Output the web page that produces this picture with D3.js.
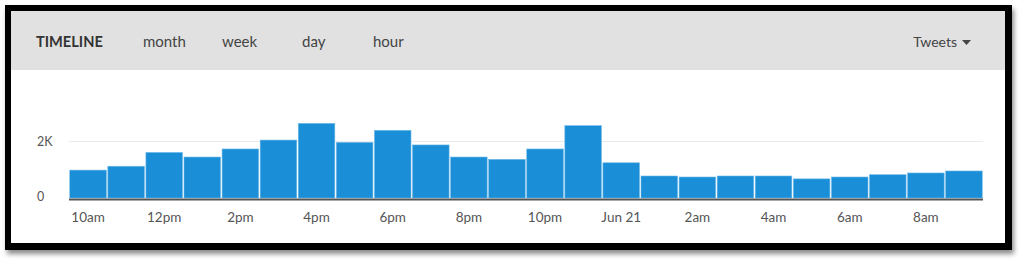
<!DOCTYPE html>
<html>
<head>
<meta charset="utf-8">
<script src="https://cdn.jsdelivr.net/npm/d3@7"></script>
<style>
  html, body { margin: 0; padding: 0; background: #fff; }
  svg { display: block; }
  text { font-family: Lato, "Open Sans", sans-serif; }
</style>
</head>
<body>
<div id="chart"></div>
<script>
// hourly buckets, starting 10am Jun 20
var hours = ["10am","11am","12pm","1pm","2pm","3pm","4pm","5pm","6pm","7pm","8pm","9pm",
             "10pm","11pm","12am","1am","2am","3am","4am","5am","6am","7am","8am","9am"];
var tweets = [1005, 1140, 1620, 1460, 1740, 2050, 2630, 1970, 2390, 1880, 1460, 1380,
              1740, 2550, 1260, 800, 765, 800, 800, 700, 765, 845, 905, 975];
var tickHours = ["10am","12pm","2pm","4pm","6pm","8pm","10pm","12am","2am","4am","6am","8am"];
var tickNames = {"12am": "Jun 21"};
var yTicks = [0, 2000];
var menu = ["month", "week", "day", "hour"];

var W = 1024, H = 264;
var svg = d3.select("#chart").append("svg")
    .attr("width", W)
    .attr("height", H);

var defs = svg.append("defs");
var f = defs.append("filter").attr("id", "shadow")
    .attr("x", "-5%").attr("y", "-5%").attr("width", "110%").attr("height", "120%");
f.append("feDropShadow")
    .attr("dx", 2).attr("dy", 4).attr("stdDeviation", 2.5)
    .attr("flood-color", "#000").attr("flood-opacity", 0.45);

// frame
svg.append("rect")
    .attr("x", 5).attr("y", 5)
    .attr("width", 1007).attr("height", 245)
    .attr("fill", "#000")
    .attr("filter", "url(#shadow)");
svg.append("rect")
    .attr("x", 11).attr("y", 11)
    .attr("width", 994).attr("height", 232)
    .attr("fill", "#fff");

// header bar
svg.append("rect")
    .attr("x", 11).attr("y", 11)
    .attr("width", 994).attr("height", 59)
    .attr("fill", "#e1e1e1");

svg.append("text")
    .attr("x", 36).attr("y", 47)
    .style("font-size", "14.6px")
    .style("font-weight", "bold")
    .style("fill", "#333")
    .text("TIMELINE");

var menuX = [143, 222, 302, 373];
svg.selectAll("text.menu")
    .data(menu)
    .enter()
    .append("text")
        .attr("class", "menu")
        .attr("x", function(d, i) { return menuX[i]; })
        .attr("y", 47)
        .style("font-size", "15px")
        .style("fill", "#444")
        .text(function(d) { return d; });

svg.append("text")
    .attr("x", 957).attr("y", 47)
    .style("font-size", "14px")
    .style("fill", "#444")
    .style("text-anchor", "end")
    .text("Tweets");
svg.append("path")
    .attr("d", "M962,40 L971,40 L966.5,45 Z")
    .attr("fill", "#444");

// plot
var left = 69, right = 983, base = 199;

var x = d3.scaleBand()
    .domain(hours)
    .range([left, right])
    .padding(0);

var y = d3.scaleLinear()
    .domain([0, 2000])
    .range([base, base - 57.5]);

// gridline
svg.selectAll("line.grid")
    .data(yTicks.filter(function(d) { return d > 0; }))
    .enter()
    .append("line")
        .attr("class", "grid")
        .attr("x1", left).attr("x2", right)
        .attr("y1", function(d) { return y(d); })
        .attr("y2", function(d) { return y(d); })
        .style("stroke", "#ebebeb")
        .style("stroke-width", 1);

var yAxis = svg.append("g")
    .attr("transform", "translate(37,0)")
    .call(d3.axisLeft(y).tickValues(yTicks)
        .tickSize(0)
        .tickFormat(function(d) { return d === 0 ? "0" : d3.format(".0s")(d).replace("k", "K"); }));
yAxis.select(".domain").remove();
yAxis.selectAll("text")
    .attr("x", 0)
    .attr("dy", "0.35em")
    .style("text-anchor", "start")
    .style("font-size", "12.5px")
    .style("fill", "#555");
yAxis.selectAll(".tick").filter(function(d) { return d === 0; })
    .attr("transform", "translate(0," + (base - 2) + ")");

svg.selectAll("rect.bar")
    .data(tweets)
    .enter()
    .append("rect")
        .attr("class", "bar")
        .attr("x", function(d, i) { return x(hours[i]) + 0.75; })
        .attr("width", x.bandwidth() - 1.5)
        .attr("y", function(d) { return y(d); })
        .attr("height", function(d) { return base - 1 - y(d); })
        .style("fill", "#1a8fd8")
        .style("stroke", "#6fb9e8")
        .style("stroke-width", 0.6);

// baseline
svg.append("line")
    .attr("x1", left).attr("x2", right)
    .attr("y1", base + 0.5).attr("y2", base + 0.5)
    .style("stroke", "#555")
    .style("stroke-width", 2);

var xAxis = svg.append("g")
    .attr("transform", "translate(0," + (base + 3) + ")")
    .call(d3.axisBottom(x).tickValues(tickHours)
        .tickSize(0)
        .tickFormat(function(d) { return tickNames[d] || d; }));
xAxis.select(".domain").remove();
xAxis.selectAll("text")
    .attr("dy", "0")
    .attr("y", 20)
    .style("font-size", "13.5px")
    .style("fill", "#555");
</script>
</body>
</html>
